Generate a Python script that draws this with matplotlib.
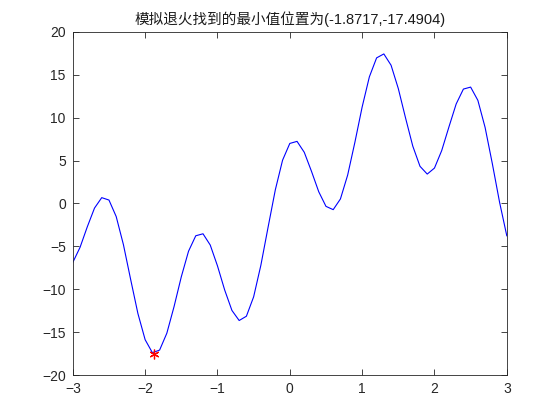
import matplotlib
matplotlib.use('Agg')
import matplotlib.pyplot as plt

plt.rcParams['font.family'] = ['Noto Sans CJK SC', 'DejaVu Sans']

# sampled curve (step 0.1)
x = [-3.0, -2.9, -2.8, -2.7, -2.6, -2.5, -2.4, -2.3, -2.2, -2.1,
     -2.0, -1.9, -1.8, -1.7, -1.6, -1.5, -1.4, -1.3, -1.2, -1.1,
     -1.0, -0.9, -0.8, -0.7, -0.6, -0.5, -0.4, -0.3, -0.2, -0.1,
     0.0, 0.1, 0.2, 0.3, 0.4, 0.5, 0.6, 0.7, 0.8, 0.9,
     1.0, 1.1, 1.2, 1.3, 1.4, 1.5, 1.6, 1.7, 1.8, 1.9,
     2.0, 2.1, 2.2, 2.3, 2.4, 2.5, 2.6, 2.7, 2.8, 2.9, 3.0]
y = [-6.870, -5.116, -2.728, -0.537, 0.681, 0.402, -1.523, -4.806, -8.863, -12.824,
     -15.876, -17.389, -17.090, -15.122, -12.014, -8.546, -5.563, -3.763, -3.531, -4.842,
     -7.270, -10.093, -12.466, -13.641, -13.141, -10.882, -7.197, -2.756, 1.597, 5.045,
     7.000, 7.241, 5.967, 3.746, 1.371, -0.334, -0.719, 0.531, 3.316, 7.141,
     11.242, 14.764, 16.973, 17.435, 16.117, 13.398, 9.977, 6.694, 4.334, 3.429,
     4.129, 6.166, 8.925, 11.600, 13.337, 13.568, 12.023, 8.865, 4.642, 0.148, -3.766]

# minimum found by simulated annealing
best_x = -1.8717
best_y = -17.4904

xticks = [-3, -2, -1, 0, 1, 2, 3]
yticks = [-20, -15, -10, -5, 0, 5, 10, 15, 20]

fig = plt.figure(figsize=(5.6, 4.2), dpi=100)
ax = fig.add_axes([0.13, 0.107, 0.775, 0.817])

ax.plot(x, y, color='#0000ff', linewidth=0.8)
ax.plot(best_x, best_y, linestyle='none', marker=(6, 2, 0),
        color='#ff0000', markersize=7, markeredgewidth=0.9)

ax.set_xlim(-3, 3)
ax.set_ylim(-20, 20)
ax.set_xticks(xticks)
ax.set_yticks(yticks)
ax.tick_params(direction='in', top=True, right=True, length=4,
               width=0.6, colors='#262626', labelsize=10, pad=5)
for lab in ax.get_xticklabels() + ax.get_yticklabels():
    lab.set_family(['Liberation Sans', 'DejaVu Sans'])
for s in ax.spines.values():
    s.set_color('#262626')
    s.set_linewidth(0.6)

ax.set_title('模拟退火找到的最小值位置为(%.4f,%.4f)' % (best_x, best_y),
             fontsize=10.5, color='#1a1a1a', pad=6,
             family=['Liberation Sans', 'Noto Sans CJK SC', 'DejaVu Sans'])

fig.savefig('out.png', dpi=100)
